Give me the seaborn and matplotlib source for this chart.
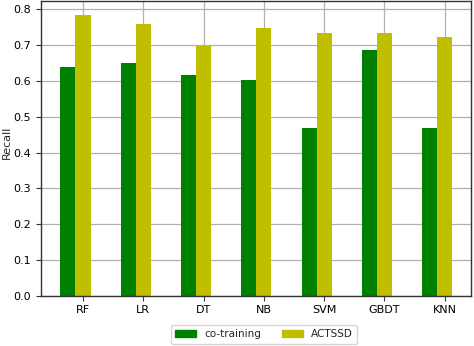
import numpy as np
import pandas as pd
import matplotlib
matplotlib.use("Agg")
import matplotlib.pyplot as plt
import seaborn as sns

# Recall of each classifier under the two semi-supervised schemes
classifiers = ["RF", "LR", "DT", "NB", "SVM", "GBDT", "KNN"]
co_training = [0.639, 0.651, 0.616, 0.604, 0.470, 0.687, 0.470]
actssd = [0.784, 0.760, 0.699, 0.747, 0.735, 0.735, 0.724]
series_names = ["co-training", "ACTSSD"]
series_colors = ["#008000", "#bfbf00"]

df = pd.DataFrame({
    "classifier": classifiers * 2,
    "recall": co_training + actssd,
    "method": [series_names[0]] * len(classifiers) + [series_names[1]] * len(classifiers),
})

sns.set_style("ticks")
plt.rcParams.update({
    "font.family": ["DejaVu Sans"],
    "axes.edgecolor": "#333333",
    "axes.linewidth": 1.0,
    "xtick.color": "#333333",
    "ytick.color": "#333333",
    "xtick.labelcolor": "black",
    "ytick.labelcolor": "black",
})

fig = plt.figure(figsize=(4.74, 3.46), dpi=100)
ax = fig.add_axes([0.086, 0.1454, 0.907, 0.851])

sns.barplot(data=df, x="classifier", y="recall", hue="method",
            order=classifiers, hue_order=series_names,
            palette=series_colors, width=0.5, errorbar=None,
            linewidth=0, saturation=1, ax=ax, legend=False)

ax.set_axisbelow(True)
ax.grid(True, color="#b0b0b0", linewidth=0.9)
ax.set_xticks(np.arange(len(classifiers)) + 0.125, classifiers)
ax.set_xlim(-0.575, 6.555)
ax.set_ylim(0, 0.823)
ax.set_yticks(np.arange(0, 0.81, 0.1))
ax.yaxis.set_major_formatter(matplotlib.ticker.FormatStrFormatter("%.1f"))
ax.tick_params(labelsize=8, length=3.5, width=0.8)
ax.set_xlabel("")
ax.set_ylabel("Recall", fontsize=8)
ax.yaxis.set_label_coords(-0.068, 0.52)

handles = [matplotlib.patches.Patch(color=c, label=n) for c, n in zip(series_colors, series_names)]
fig.legend(handles=handles, loc="upper center", bbox_to_anchor=(0.557, 0.075),
           ncol=2, fontsize=7.5, frameon=True, edgecolor="#cccccc",
           fancybox=True, handlelength=2.0, columnspacing=2.0)

fig.savefig("out.png", dpi=100)
